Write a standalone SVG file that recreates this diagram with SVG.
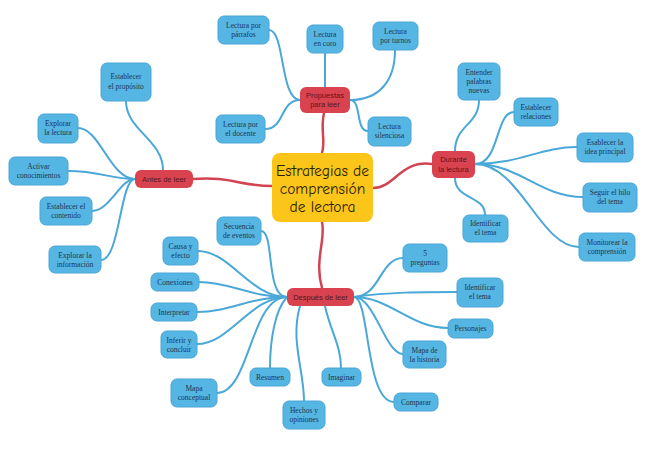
<svg xmlns="http://www.w3.org/2000/svg" width="645" height="452" viewBox="0 0 645 452">
<style>
.b rect{fill:#55b5e3;stroke:#4aa6d6;stroke-width:1}
.r rect{fill:#d9434f}
.b text{font-family:"Liberation Serif",serif;font-size:7.5px;fill:#1e3550;text-anchor:middle}
.r text{font-family:"Liberation Sans",sans-serif;font-size:7.5px;fill:#5a1620;text-anchor:middle}
.lb{fill:none;stroke:#4aa8d8;stroke-width:2;stroke-linecap:round}
.lr{fill:none;stroke:#d24452;stroke-width:2.5;stroke-linecap:round}
</style>
<rect width="645" height="452" fill="#fff"/>
<g id="connectors">
<path class="lr" d="M324,113 C320,130 326,140 322,153"/>
<path class="lr" d="M193,179 C230,176 240,186 272,186"/>
<path class="lr" d="M432,164 C400,160 395,188 373,188"/>
<path class="lr" d="M322,288 C314,260 326,240 322,222"/>
<path class="lb" d="M300,100 C280,100 285,30 269,30"/>
<path class="lb" d="M300,100 C280,100 285,129 265,129"/>
<path class="lb" d="M325,87 C325,75 325,65 325,53"/>
<path class="lb" d="M350,100 C380,100 395,80 395,50"/>
<path class="lb" d="M350,100 C362,100 355,131 368,131"/>
<path class="lb" d="M163,170 C163,140 126,130 126,101"/>
<path class="lb" d="M135,179 C110,179 100,128 78,128"/>
<path class="lb" d="M135,179 C110,179 100,171 68,171"/>
<path class="lb" d="M135,179 C120,179 110,211 92,211"/>
<path class="lb" d="M135,179 C120,179 120,260 101,260"/>
<path class="lb" d="M455,151 C455,125 479,125 479,100"/>
<path class="lb" d="M475,164 C500,164 495,112 514,112"/>
<path class="lb" d="M475,164 C520,164 540,147 577,147"/>
<path class="lb" d="M475,164 C520,164 540,197 583,197"/>
<path class="lb" d="M475,164 C520,164 540,247 579,247"/>
<path class="lb" d="M455,178 C455,200 485,195 485,215"/>
<path class="lb" d="M287,297 C265,297 275,231 261,231"/>
<path class="lb" d="M287,297 C250,297 230,251 198,251"/>
<path class="lb" d="M287,297 C250,297 230,282 199,282"/>
<path class="lb" d="M287,297 C250,297 230,312 197,312"/>
<path class="lb" d="M287,297 C250,297 230,344 197,344"/>
<path class="lb" d="M287,297 C250,297 250,393 217,393"/>
<path class="lb" d="M287,297 C275,310 270,340 270,368"/>
<path class="lb" d="M300,306 C290,340 304,370 304,401"/>
<path class="lb" d="M325,306 C330,330 341,345 341,368"/>
<path class="lb" d="M354,297 C380,297 380,258 403,258"/>
<path class="lb" d="M354,297 C390,292 420,292 457,292"/>
<path class="lb" d="M354,297 C390,297 410,328 448,328"/>
<path class="lb" d="M354,297 C375,297 385,354 403,354"/>
<path class="lb" d="M354,297 C370,297 365,402 394,402"/>
</g>
<g id="center"><rect x="272" y="153" width="101" height="69" rx="8" fill="#fcc51a"/>
<text font-family="'Comic Neue','DejaVu Sans',sans-serif" font-size="15.5" fill="#2a2200" text-anchor="middle"><tspan x="322.5" y="176">Estrategias de</tspan><tspan x="322.5" y="194">comprensión</tspan><tspan x="322.5" y="212">de lectora</tspan></text></g>
<g id="propuestas" class="r"><rect x="300" y="87" width="50" height="26" rx="6"/><text><tspan x="325" y="98">Propuestas</tspan><tspan x="325" y="107">para leer</tspan></text></g>
<g id="antes" class="r"><rect x="135" y="170" width="58" height="18" rx="6"/><text x="164" y="182">Antes de leer</text></g>
<g id="durante" class="r"><rect x="432" y="151" width="43" height="27" rx="6"/><text><tspan x="453.5" y="162">Durante</tspan><tspan x="453.5" y="172">la lectura</tspan></text></g>
<g id="despues" class="r"><rect x="287" y="288" width="67" height="18" rx="6"/><text x="320.5" y="300">Después de leer</text></g>
<g id="parrafos" class="b"><rect x="218" y="16" width="51" height="28" rx="6"/><text><tspan x="243.5" y="28">Lectura por</tspan><tspan x="243.5" y="37">párrafos</tspan></text></g>
<g id="coro" class="b"><rect x="307" y="25" width="36" height="28" rx="6"/><text><tspan x="325" y="37">Lectura</tspan><tspan x="325" y="46">en coro</tspan></text></g>
<g id="turnos" class="b"><rect x="373" y="22" width="45" height="28" rx="6"/><text><tspan x="395.5" y="34">Lectura</tspan><tspan x="395.5" y="43">por turnos</tspan></text></g>
<g id="docente" class="b"><rect x="216" y="115" width="49" height="28" rx="6"/><text><tspan x="240.5" y="127">Lectura por</tspan><tspan x="240.5" y="136">el docente</tspan></text></g>
<g id="silenciosa" class="b"><rect x="368" y="117" width="43" height="29" rx="6"/><text><tspan x="389.5" y="129">Lectura</tspan><tspan x="389.5" y="138">silenciosa</tspan></text></g>
<g id="proposito" class="b"><rect x="101" y="63" width="50" height="38" rx="6"/><text><tspan x="126" y="79">Establecer</tspan><tspan x="126" y="89">el propósito</tspan></text></g>
<g id="explorar" class="b"><rect x="38" y="114" width="40" height="29" rx="6"/><text><tspan x="58" y="126">Explorar</tspan><tspan x="58" y="135">la lectura</tspan></text></g>
<g id="activar" class="b"><rect x="9" y="157" width="59" height="28" rx="6"/><text><tspan x="38.5" y="169">Activar</tspan><tspan x="38.5" y="178">conocimientos</tspan></text></g>
<g id="contenido" class="b"><rect x="40" y="197" width="52" height="28" rx="6"/><text><tspan x="66" y="209">Establecer el</tspan><tspan x="66" y="218">contenido</tspan></text></g>
<g id="informacion" class="b"><rect x="49" y="246" width="52" height="27" rx="6"/><text><tspan x="75" y="258">Explorar la</tspan><tspan x="75" y="267">información</tspan></text></g>
<g id="palabras" class="b"><rect x="458" y="63" width="42" height="37" rx="6"/><text><tspan x="479" y="75">Entender</tspan><tspan x="479" y="84">palabras</tspan><tspan x="479" y="93">nuevas</tspan></text></g>
<g id="relaciones" class="b"><rect x="514" y="98" width="44" height="28" rx="6"/><text><tspan x="536" y="110">Establecer</tspan><tspan x="536" y="119">relaciones</tspan></text></g>
<g id="idea" class="b"><rect x="577" y="133" width="56" height="29" rx="6"/><text><tspan x="605" y="145">Esablecer la</tspan><tspan x="605" y="154">idea principal</tspan></text></g>
<g id="hilo" class="b"><rect x="583" y="183" width="54" height="29" rx="6"/><text><tspan x="610" y="195">Seguir el hilo</tspan><tspan x="610" y="204">del tema</tspan></text></g>
<g id="tema1" class="b"><rect x="463" y="215" width="45" height="27" rx="6"/><text><tspan x="485.5" y="226">Identificar</tspan><tspan x="485.5" y="235">el tema</tspan></text></g>
<g id="monitorear" class="b"><rect x="579" y="233" width="56" height="28" rx="6"/><text><tspan x="607" y="245">Monitorear la</tspan><tspan x="607" y="254">comprensión</tspan></text></g>
<g id="secuencia" class="b"><rect x="217" y="217" width="44" height="28" rx="6"/><text><tspan x="239" y="229">Secuencia</tspan><tspan x="239" y="238">de eventos</tspan></text></g>
<g id="causa" class="b"><rect x="163" y="237" width="35" height="28" rx="6"/><text><tspan x="180.5" y="249">Causa y</tspan><tspan x="180.5" y="258">efecto</tspan></text></g>
<g id="conexiones" class="b"><rect x="151" y="273" width="48" height="18" rx="6"/><text x="175" y="285">Conexiones</text></g>
<g id="interpretar" class="b"><rect x="151" y="303" width="46" height="18" rx="6"/><text x="174" y="315">Interpretar</text></g>
<g id="inferir" class="b"><rect x="161" y="331" width="36" height="27" rx="6"/><text><tspan x="179" y="343">Inferir y</tspan><tspan x="179" y="352">concluir</tspan></text></g>
<g id="mapac" class="b"><rect x="171" y="379" width="46" height="28" rx="6"/><text><tspan x="194" y="391">Mapa</tspan><tspan x="194" y="400">conceptual</tspan></text></g>
<g id="resumen" class="b"><rect x="250" y="368" width="40" height="18" rx="6"/><text x="270" y="380">Resumen</text></g>
<g id="hechos" class="b"><rect x="283" y="401" width="42" height="28" rx="6"/><text><tspan x="304" y="413">Hechos y</tspan><tspan x="304" y="422">opiniones</tspan></text></g>
<g id="imaginar" class="b"><rect x="322" y="368" width="39" height="18" rx="6"/><text x="341.5" y="380">Imaginar</text></g>
<g id="comparar" class="b"><rect x="394" y="393" width="44" height="18" rx="6"/><text x="416" y="405">Comparar</text></g>
<g id="mapah" class="b"><rect x="403" y="341" width="43" height="27" rx="6"/><text><tspan x="424.5" y="353">Mapa de</tspan><tspan x="424.5" y="362">la historia</tspan></text></g>
<g id="personajes" class="b"><rect x="448" y="319" width="45" height="19" rx="6"/><text x="470.5" y="331">Personajes</text></g>
<g id="tema2" class="b"><rect x="457" y="278" width="46" height="29" rx="6"/><text><tspan x="480" y="290">Identificar</tspan><tspan x="480" y="299">el tema</tspan></text></g>
<g id="preguntas" class="b"><rect x="403" y="244" width="44" height="28" rx="6"/><text><tspan x="425" y="256">5</tspan><tspan x="425" y="265">preguntas</tspan></text></g>
</svg>
